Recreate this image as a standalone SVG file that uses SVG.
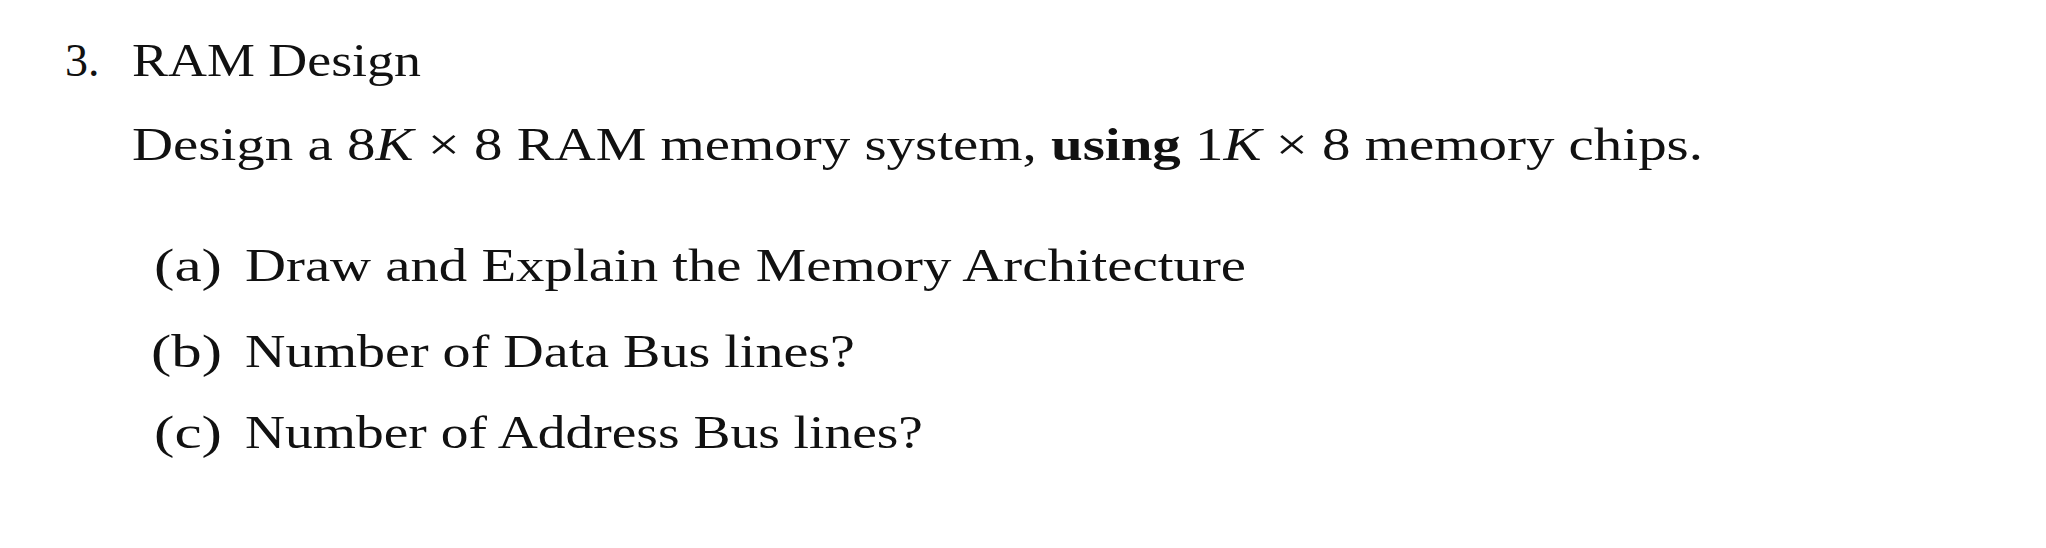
<svg xmlns="http://www.w3.org/2000/svg" width="2046" height="548" viewBox="0 0 2046 548">
<style>text{font-family:"Liberation Serif","DejaVu Serif",serif;font-size:46px;fill:#111}</style>
<rect width="2046" height="548" fill="#fff"/>
<g id="title"><text x="65" y="76">3.</text><text x="132" y="76" textLength="289" lengthAdjust="spacingAndGlyphs">RAM Design</text></g>
<g id="statement"><text x="132" y="160" textLength="1571" lengthAdjust="spacingAndGlyphs">Design a 8<tspan font-style="italic">K</tspan> × 8 RAM memory system, <tspan font-weight="bold">using</tspan> 1<tspan font-style="italic">K</tspan> × 8 memory chips.</text></g>
<g id="a"><text x="154" y="281" textLength="68" lengthAdjust="spacingAndGlyphs">(a)</text><text x="245" y="281" textLength="1001" lengthAdjust="spacingAndGlyphs">Draw and Explain the Memory Architecture</text></g>
<g id="b"><text x="151" y="367" textLength="71" lengthAdjust="spacingAndGlyphs">(b)</text><text x="245" y="367" textLength="610" lengthAdjust="spacingAndGlyphs">Number of Data Bus lines?</text></g>
<g id="c"><text x="154" y="448" textLength="68" lengthAdjust="spacingAndGlyphs">(c)</text><text x="245" y="448" textLength="678" lengthAdjust="spacingAndGlyphs">Number of Address Bus lines?</text></g>
</svg>
